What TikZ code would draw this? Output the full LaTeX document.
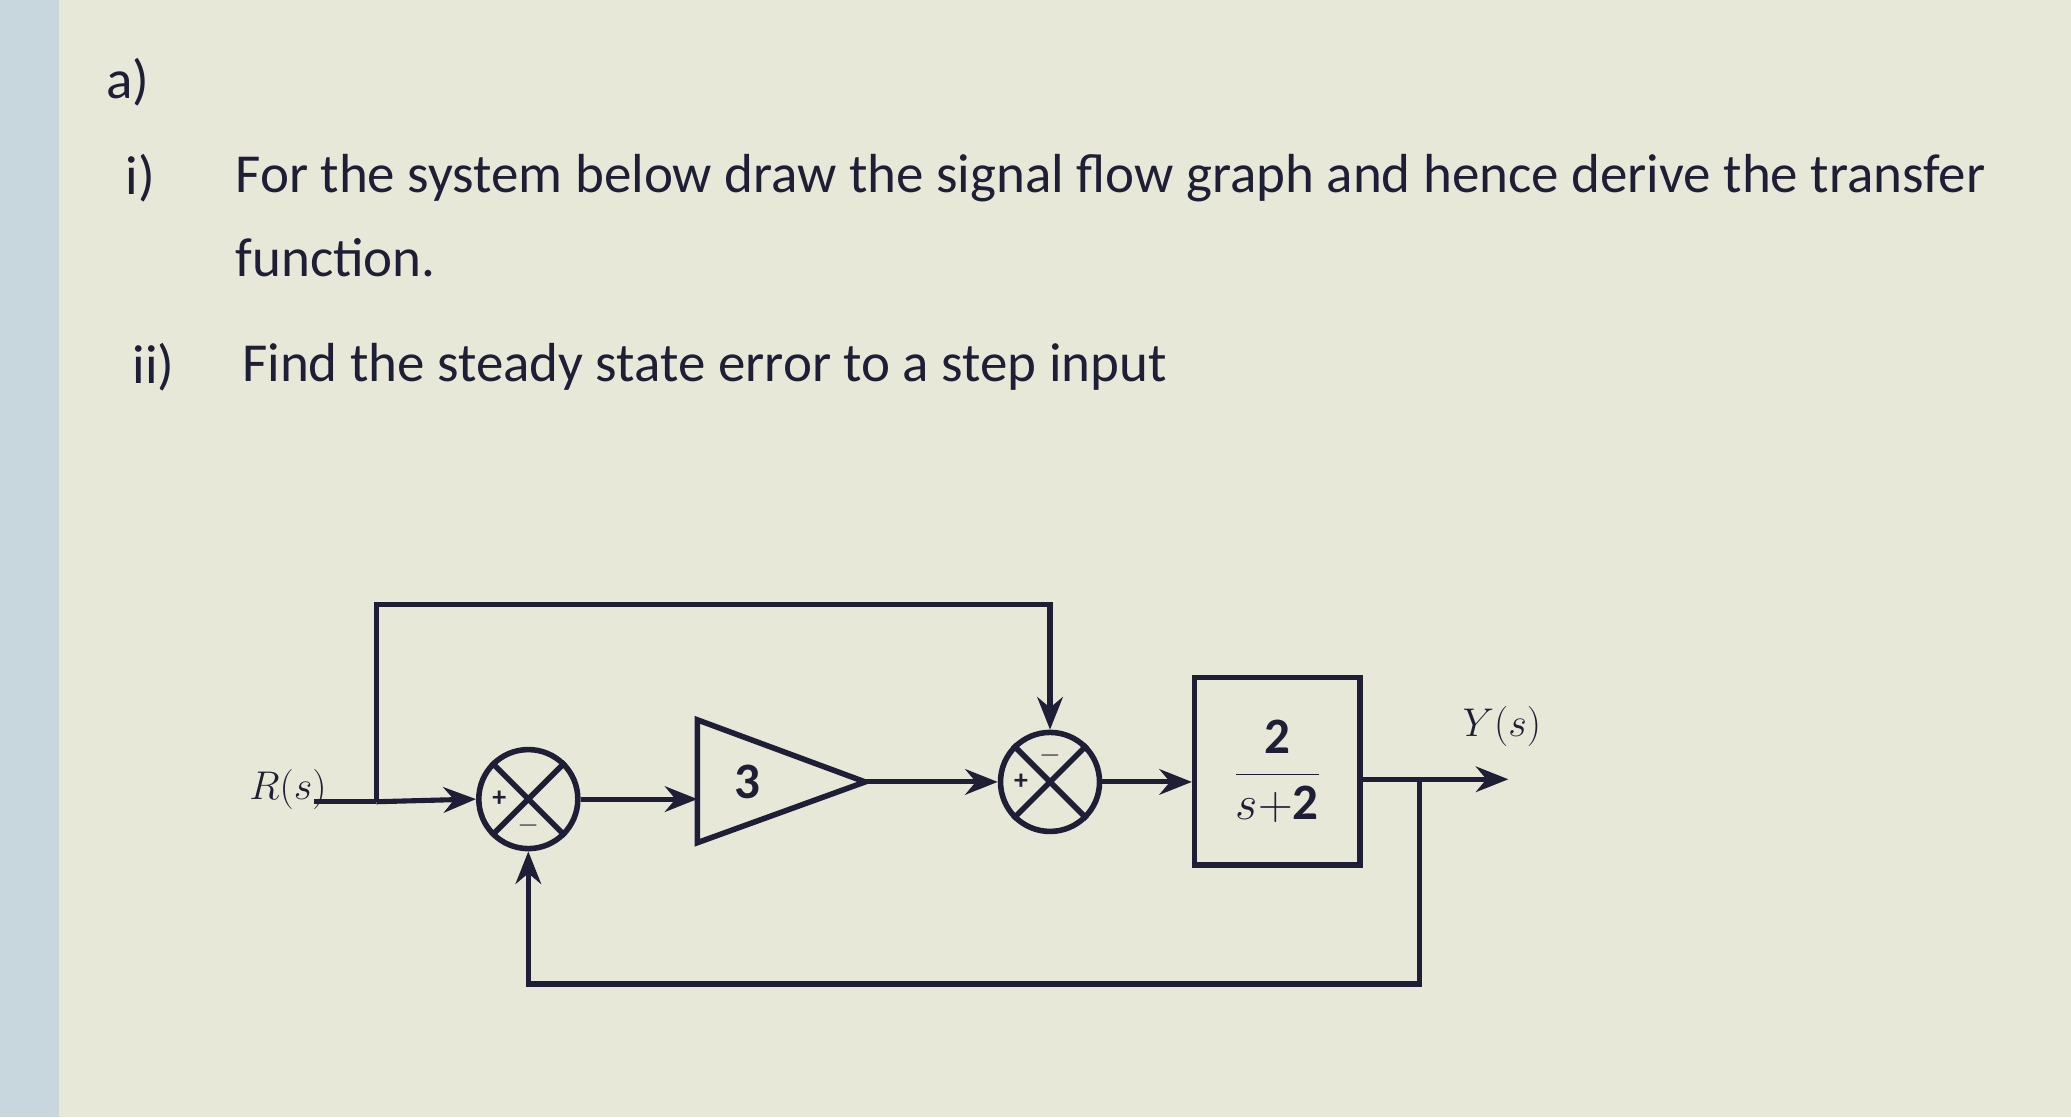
\documentclass[tikz,border=0pt]{standalone}
\usepackage{fontspec}
\setmainfont{Carlito}
\usetikzlibrary{arrows.meta,calc}
\definecolor{bg}{RGB}{232,232,216}
\definecolor{ink}{RGB}{30,30,55}
\definecolor{strip}{RGB}{200,214,222}
\begin{document}
\begin{tikzpicture}[x=0.02cm,y=-0.02cm,
  wire/.style={draw=ink,line width=2.2pt},
  arr/.style={wire,-{Stealth[length=14pt,width=11pt]}},
  sumj/.style={circle,draw=ink,line width=2.4pt,minimum size=1.5cm,inner sep=0pt},
  sgn/.style={font=\bfseries\large,text=ink},
  txt/.style={anchor=west,inner sep=0pt,font=\fontsize{23.7}{28}\selectfont,text=ink}]
\fill[bg] (0,0) rectangle (1568,846);
\fill[strip] (0,0) rectangle (45,846);
\useasboundingbox (0,0) rectangle (1568,846);
\node[txt] (a) at (80,62) {a)};
\node[txt] (i) at (95,135) {i)};
\node[txt] (t1) at (178,135) {For the system below draw the signal flow graph and hence derive the transfer};
\node[txt] (t2) at (178,195) {function.};
\node[txt] (ii) at (100,278) {ii)};
\node[txt] (t3) at (183,278) {Find the steady state error to a step input};
% blocks
\node[sumj] (s1) at (400,605) {};
\node[sumj] (s2) at (795,592) {};
\draw[ink,line width=2.4pt] (s1.north west)--(s1.south east) (s1.north east)--(s1.south west);
\draw[ink,line width=2.4pt] (s2.north west)--(s2.south east) (s2.north east)--(s2.south west);
\node[sgn] at ($(s1.center)+(-22,0)$) {+};
\node[sgn] at ($(s1.center)+(0,20)$) {$-$};
\node[sgn] at ($(s2.center)+(-22,0)$) {+};
\node[sgn] at ($(s2.center)+(0,-20)$) {$-$};
\coordinate (g1) at (528,545);
\coordinate (g2) at (528,638);
\coordinate (gt) at (655,592);
\draw[ink,line width=2.4pt] (g1)--(gt)--(g2)--cycle;
\node[font=\fontsize{22}{26}\selectfont\bfseries,text=ink] (g) at (566,592) {3};
\node[draw=ink,line width=2.4pt,minimum width=2.5cm,minimum height=2.84cm,text=ink,font=\fontsize{22}{26}\selectfont\bfseries] (G) at (967,584) {$\displaystyle\frac{\mathbf{2}}{s\mathbf{+2}}$};
\node[font=\fontsize{17}{20}\selectfont\bfseries,text=ink] (R) at (218,598) {$R(s)$};
\node[font=\fontsize{17}{20}\selectfont\bfseries,text=ink] (Y) at (1137,550) {$Y(s)$};
\coordinate (rin) at (238,607);
\coordinate (b1) at (285,607);
\coordinate (b2) at (1075,590);
\coordinate (yout) at (1142,590);
\draw[wire] (rin)--(b1);
\draw[arr] (b1)--(s1.west);
\draw[arr] (b1)--(285,458)--(795,458)--(s2.north);
\draw[arr] (s1.east)--(528,605);
\draw[arr] (gt)--(s2.west);
\draw[arr] (s2.east)--(G.west|-s2.east);
\draw[arr] (G.east|-b2)--(yout);
\draw[arr] (b2)--(1075,745)--(400,745)--(s1.south);
\end{tikzpicture}
\end{document}
